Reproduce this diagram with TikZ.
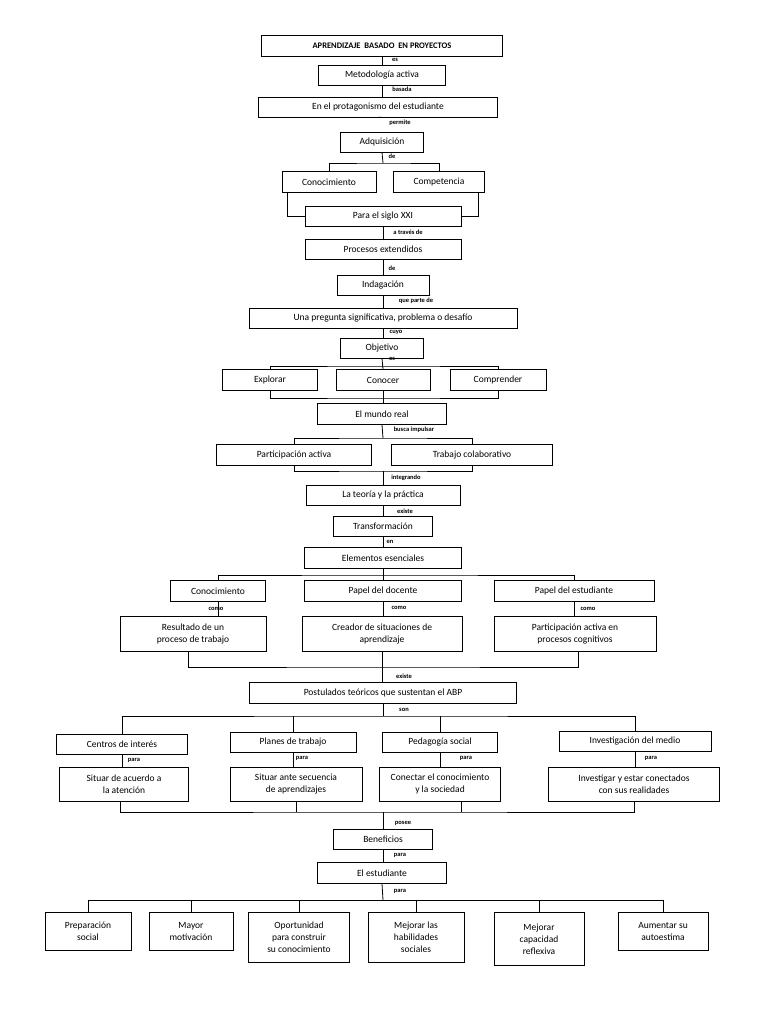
\documentclass[tikz,border=0pt]{standalone}
\usepackage{fontspec}
\setmainfont{Carlito}
\begin{document}
\begin{tikzpicture}[x=1pt,y=-1pt]
\tikzset{bx/.style 2 args={draw, line width=0.8pt, minimum width=#1, minimum height=#2, inner sep=1pt, align=center, font=\fontsize{9.5}{12}\selectfont},
  lbl/.style={font=\bfseries\fontsize{6.5}{7}\selectfont, inner sep=0pt},
  every path/.style={line width=0.8pt}}
\useasboundingbox (0,0) rectangle (768,1024);
% main chain
\node[bx={241}{21}, font=\bfseries\fontsize{8.5}{10}\selectfont] (abp) at (382,46) {APRENDIZAJE \ BASADO \ EN PROYECTOS};
\node[bx={127}{20}] (meto) at (382,75) {Metodología activa};
\node[bx={239}{20}] (prot) at (378,107) {En el protagonismo del estudiante};
\node[bx={83}{20}] (adq) at (382,142) {Adquisición};
\node[bx={94}{21}] (cono1) at (329,182) {Conocimiento};
\node[bx={91}{21}] (comp) at (439,182) {Competencia};
\node[bx={156}{20}] (siglo) at (383,216) {Para el siglo XXI};
\node[bx={156}{20}] (proc) at (383,249) {Procesos extendidos};
\node[bx={92}{20}] (inda) at (383,285) {Indagación};
\node[bx={268}{20}] (preg) at (383,318) {Una pregunta significativa, problema o desafío};
\node[bx={83}{20}] (obj) at (382,348) {Objetivo};
\node[bx={95}{21}] (expl) at (270,380) {Explorar};
\node[bx={94}{21}] (conoc) at (383,380) {Conocer};
\node[bx={96}{21}] (compr) at (498,380) {Comprender};
\node[bx={129}{21}] (mundo) at (382,414) {El mundo real};
\node[bx={155}{21}] (part) at (294,455) {Participación activa};
\node[bx={161}{21}] (trab) at (472,455) {Trabajo colaborativo};
\node[bx={154}{20}] (teo) at (383,495) {La teoría y la práctica};
\node[bx={99}{20}] (trans) at (383,526) {Transformación};
\node[bx={157}{21}] (elem) at (383,558) {Elementos esenciales};
\node[bx={95}{21}] (cono2) at (218,591) {Conocimiento};
\node[bx={157}{21}] (pdoc) at (383,591) {Papel del docente};
\node[bx={160}{21}] (pest) at (574,591) {Papel del estudiante};
\node[bx={146}{35}] (res) at (193,634) {Resultado de un\\proceso de trabajo};
\node[bx={160}{35}] (crea) at (382,634) {Creador de situaciones de\\aprendizaje};
\node[bx={162}{35}] (pcog) at (575,634) {Participación activa en\\procesos cognitivos};
\node[bx={267}{21}] (post) at (383,693) {Postulados teóricos que sustentan el ABP};
\node[bx={131}{20}] (cent) at (122,744) {Centros de interés};
\node[bx={126}{20}] (plan) at (293,742) {Planes de trabajo};
\node[bx={115}{20}] (peda) at (440,742) {Pedagogía social};
\node[bx={152}{20}] (inv) at (635,741) {Investigación del medio};
\node[bx={129}{34}] (sit1) at (124,784) {Situar de acuerdo a\\la atención};
\node[bx={132}{34}] (sit2) at (296,784) {Situar ante secuencia\\de aprendizajes};
\node[bx={121}{34}] (conec) at (440,784) {Conectar el conocimiento\\y la sociedad};
\node[bx={171}{34}] (inv2) at (634,784) {Investigar y estar conectados\\con sus realidades};
\node[bx={99}{20}] (bene) at (383,839) {Beneficios};
\node[bx={129}{21}] (estu) at (382,873) {El estudiante};
\node[bx={86}{38}, anchor=north] (b1) at (88,912) {Preparación\\social};
\node[bx={84}{38}, anchor=north] (b2) at (191,912) {Mayor\\motivación};
\node[bx={101}{50}, anchor=north] (b3) at (299,912) {Oportunidad\\para construir\\su conocimiento};
\node[bx={96}{50}, anchor=north] (b4) at (416,912) {Mejorar las\\habilidades\\sociales};
\node[bx={90}{53}, anchor=north] (b5) at (539,912) {Mejorar\\capacidad\\reflexiva};
\node[bx={90}{38}, anchor=north] (b6) at (663,912) {Aumentar su\\autoestima};
% labels
\node[lbl] at (395,60) {es};
\node[lbl] at (402,89) {basada};
\node[lbl] at (400,123) {permite};
\node[lbl] at (392,156) {de};
\node[lbl] at (408,232) {a través de};
\node[lbl] at (392,268) {de};
\node[lbl] at (416,301) {que parte de};
\node[lbl] at (396,332) {cuyo};
\node[lbl] at (392,359) {es};
\node[lbl] at (414,430) {busca impulsar};
\node[lbl] at (406,478) {integrando};
\node[lbl] at (405,511) {existe};
\node[lbl] at (390,542) {en};
\node[lbl] at (216,609) {como};
\node[lbl] at (399,608) {como};
\node[lbl] at (588,609) {como};
\node[lbl] at (404,676) {existe};
\node[lbl] at (404,710) {son};
\node[lbl] at (134,760) {para};
\node[lbl] at (302,758) {para};
\node[lbl] at (466,758) {para};
\node[lbl] at (651,758) {para};
\node[lbl] at (403,823) {posee};
\node[lbl] at (400,855) {para};
\node[lbl] at (400,891) {para};
% connectors
\coordinate (j1) at (383,163);
\coordinate (j2) at (383,366);
\coordinate (j3) at (383,398);
\coordinate (j4) at (383,438);
\coordinate (j5) at (383,471);
\coordinate (j6) at (383,575);
\coordinate (j7) at (383,667);
\coordinate (j8) at (383,716);
\coordinate (j9) at (383,812);
\coordinate (j10) at (383,900);
\draw (abp) -- (meto);
\draw (meto.south) -- (meto.south |- prot.north);
\draw (prot.south) -- (prot.south -| adq) (adq.south) -- (j1);
\draw (cono1.north) |- (j1) -| (comp.north);
\draw ([xshift=6pt]cono1.south west) |- (siglo.west);
\draw ([xshift=-7pt]comp.south east) |- (siglo.east);
\draw (siglo) -- (proc);
\draw (proc) -- (inda);
\draw (inda) -- (preg);
\draw (preg.south) -- (preg.south |- obj.north);
\draw (obj.south) -- (conoc.north);
\draw (expl.north) |- (j2) -| (compr.north);
\draw (expl.south) |- (j3) -| (compr.south);
\draw (conoc.south) -- (conoc.south |- mundo.north);
\draw (mundo.south) -- (j4);
\draw (part.north) |- (j4) -| (trab.north);
\draw (part.south) |- (j5) -| (trab.south);
\draw (j5) -- (teo.north);
\draw (teo) -- (trans);
\draw (trans) -- (elem);
\draw (elem) -- (pdoc);
\draw (cono2.north) |- (j6) -| (pest.north);
\draw (cono2.south) -- (cono2.south |- res.north);
\draw (pdoc.south) -- (pdoc.south |- crea.north);
\draw (pest.south) -- (pest.south |- pcog.north);
\draw ([xshift=-5pt]res.south) |- (j7) -| ([xshift=3pt]pcog.south);
\draw (crea.south) -- (crea.south |- post.north);
\draw (post.south) -- (j8);
\draw (cent.north) |- (j8) -| (inv.north);
\draw (plan.north) -- (plan.north |- j8);
\draw (peda.north) -- (peda.north |- j8);
\draw (cent.south) -- (cent.south |- sit1.north);
\draw (plan.south) -- (plan.south |- sit2.north);
\draw (peda.south) -- (peda.south |- conec.north);
\draw (inv.south) -- (inv.south |- inv2.north);
\draw ([xshift=-4pt]sit1.south) |- (j9) -| (inv2.south);
\draw (sit2.south) -- (sit2.south |- j9);
\draw ([xshift=21pt]conec.south) -- ([xshift=21pt]conec.south |- j9);
\draw (j9) -- (bene.north);
\draw (bene.south) -- (bene.south |- estu.north);
\draw (estu.south) -- (j10);
\draw (b1.north) |- (j10) -| (b6.north);
\foreach \b in {b2,b3,b4,b5} \draw (\b.north) -- (\b.north |- j10);
\end{tikzpicture}
\end{document}
